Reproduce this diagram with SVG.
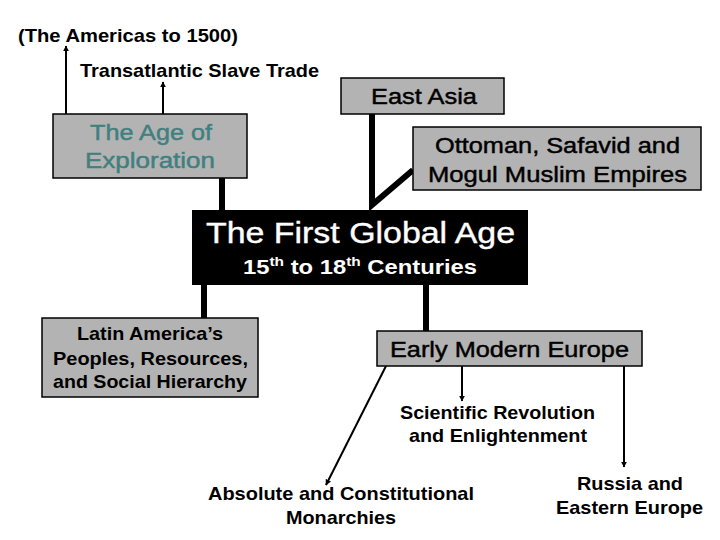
<svg xmlns="http://www.w3.org/2000/svg" width="720" height="540" viewBox="0 0 720 540">
<defs>
<marker id="ah" viewBox="0 0 10 10" refX="9" refY="5" markerWidth="6" markerHeight="6" markerUnits="userSpaceOnUse" orient="auto">
<path d="M0,0 L10,5 L0,10 z" fill="#000"/>
</marker>
</defs>
<style>
.box{fill:#b3b3b3;stroke:#000;stroke-width:1.5}
.t{font-family:"Liberation Sans",Arial,sans-serif;fill:#000}
.b{font-weight:bold;font-size:19px}
.n{font-size:22px;stroke:#000;stroke-width:0.45}
.teal{fill:#408080;stroke:#408080}
.thick{stroke:#000;stroke-width:6;fill:none}
.thin{stroke:#000;stroke-width:2;fill:none;marker-end:url(#ah)}
</style>
<rect width="720" height="540" fill="#fff"/>
<g id="connectors">
<line class="thin" x1="66" y1="114" x2="66" y2="46"/>
<line class="thin" x1="163" y1="114" x2="163" y2="82"/>
<line class="thick" x1="222" y1="178" x2="222" y2="211"/>
<polyline class="thick" points="372,114 372,205 413,170"/>
<line class="thick" x1="204" y1="285" x2="204" y2="318"/>
<line class="thick" x1="426" y1="285" x2="426" y2="331"/>
<line class="thin" x1="386" y1="366" x2="326" y2="485"/>
<line class="thin" x1="462" y1="366" x2="462" y2="401"/>
<line class="thin" x1="624" y1="366" x2="624" y2="467"/>
</g>
<g id="americas">
<text class="t b" x="18" y="42" textLength="220" lengthAdjust="spacingAndGlyphs">(The Americas to 1500)</text>
</g>
<g id="slave-trade">
<text class="t b" x="80" y="77" textLength="239" lengthAdjust="spacingAndGlyphs">Transatlantic Slave Trade</text>
</g>
<g id="age-exploration">
<rect class="box" x="53" y="114" width="194" height="64"/>
<text class="t n teal" x="90" y="140" textLength="122" lengthAdjust="spacingAndGlyphs">The Age of</text>
<text class="t n teal" x="85" y="168" textLength="130" lengthAdjust="spacingAndGlyphs">Exploration</text>
</g>
<g id="east-asia">
<rect class="box" x="341" y="78" width="163" height="36"/>
<text class="t n" x="371" y="104" textLength="106" lengthAdjust="spacingAndGlyphs">East Asia</text>
</g>
<g id="ottoman">
<rect class="box" x="413" y="127" width="288" height="63"/>
<text class="t n" x="435" y="153" textLength="245" lengthAdjust="spacingAndGlyphs">Ottoman, Safavid and</text>
<text class="t n" x="428" y="182" textLength="259" lengthAdjust="spacingAndGlyphs">Mogul Muslim Empires</text>
</g>
<g id="first-global-age">
<rect x="192" y="210" width="336" height="75" fill="#000"/>
<text class="t" x="206" y="243" textLength="309" lengthAdjust="spacingAndGlyphs" style="fill:#fff;stroke:#fff;stroke-width:0.4;font-size:30px">The First Global Age</text>
<text class="t" x="243" y="274" textLength="234" lengthAdjust="spacingAndGlyphs" style="fill:#fff;font-size:20px;font-weight:bold">15<tspan font-size="13" dy="-8">th</tspan><tspan dy="8"> to 18</tspan><tspan font-size="13" dy="-8">th</tspan><tspan dy="8"> Centuries</tspan></text>
</g>
<g id="latin-america">
<rect class="box" x="42" y="318" width="216" height="79"/>
<text class="t b" x="77" y="340" textLength="146" lengthAdjust="spacingAndGlyphs">Latin America’s</text>
<text class="t b" x="53" y="365" textLength="195" lengthAdjust="spacingAndGlyphs">Peoples, Resources,</text>
<text class="t b" x="53" y="388" textLength="194" lengthAdjust="spacingAndGlyphs">and Social Hierarchy</text>
</g>
<g id="early-modern-europe">
<rect class="box" x="377" y="331" width="265" height="35"/>
<text class="t n" x="390" y="357" textLength="239" lengthAdjust="spacingAndGlyphs">Early Modern Europe</text>
</g>
<g id="scientific">
<text class="t b" x="400" y="419" textLength="195" lengthAdjust="spacingAndGlyphs">Scientific Revolution</text>
<text class="t b" x="409" y="442" textLength="178" lengthAdjust="spacingAndGlyphs">and Enlightenment</text>
</g>
<g id="monarchies">
<text class="t b" x="208" y="500" textLength="266" lengthAdjust="spacingAndGlyphs">Absolute and Constitutional</text>
<text class="t b" x="286" y="524" textLength="110" lengthAdjust="spacingAndGlyphs">Monarchies</text>
</g>
<g id="russia">
<text class="t b" x="577" y="490" textLength="106" lengthAdjust="spacingAndGlyphs">Russia and</text>
<text class="t b" x="556" y="514" textLength="147" lengthAdjust="spacingAndGlyphs">Eastern Europe</text>
</g>
</svg>
